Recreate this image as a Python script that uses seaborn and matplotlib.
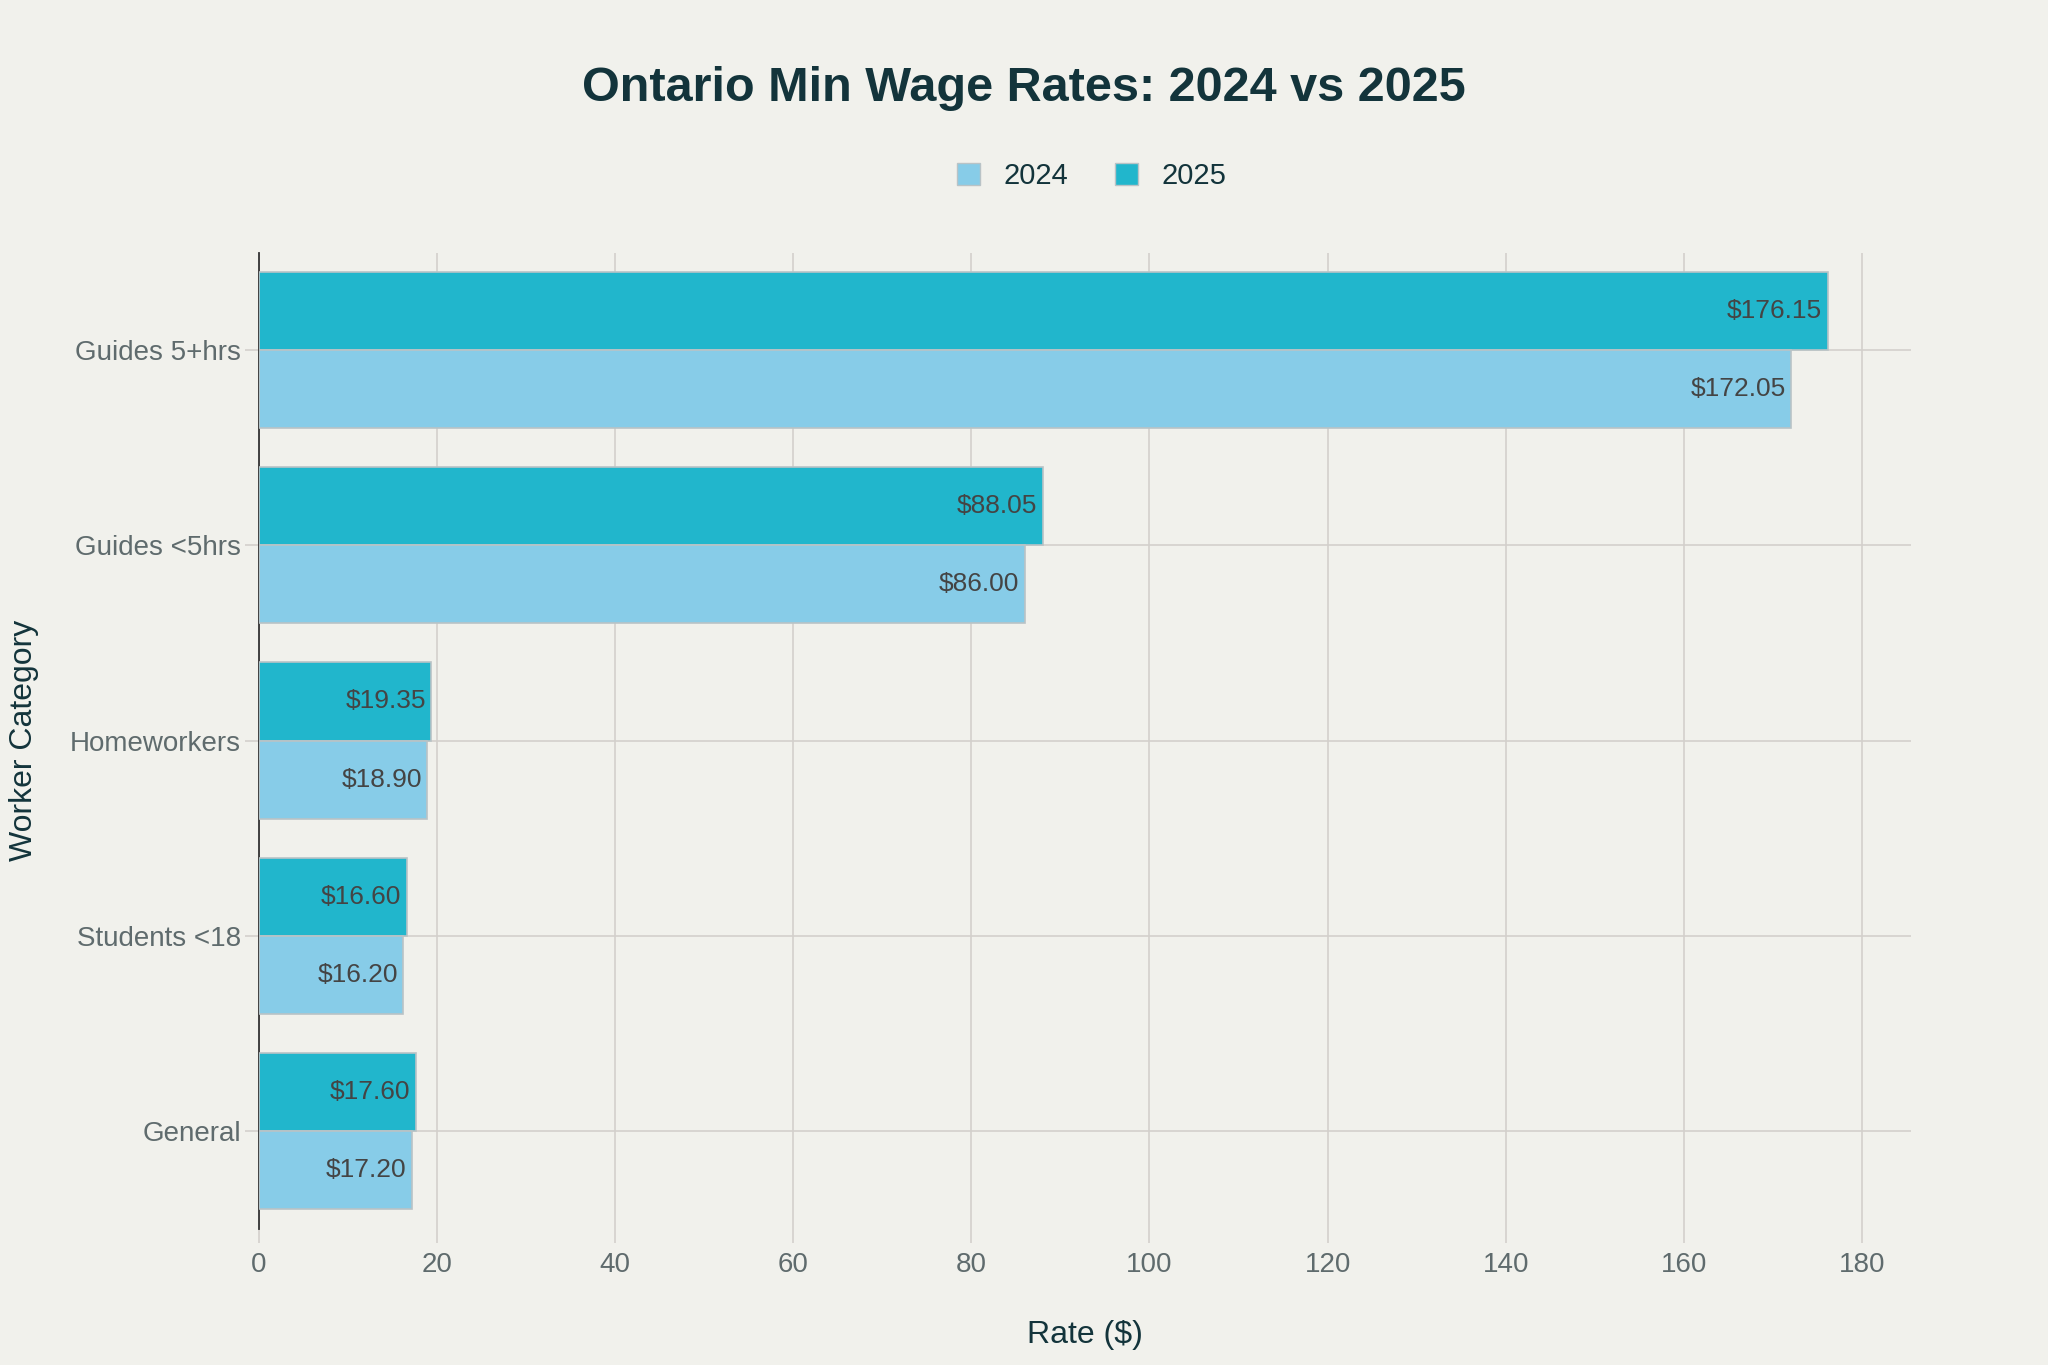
import pandas as pd
import matplotlib.pyplot as plt
import seaborn as sns

# data
categories = ['Guides 5+hrs', 'Guides <5hrs', 'Homeworkers', 'Students <18', 'General']
rate_2024 = [172.05, 86.00, 18.90, 16.20, 17.20]
rate_2025 = [176.15, 88.05, 19.35, 16.60, 17.60]
years = ['2024', '2025']
xticks = [0, 20, 40, 60, 80, 100, 120, 140, 160, 180]

df = pd.DataFrame({
    'Category': categories * 2,
    'Rate': rate_2024 + rate_2025,
    'Year': ['2024'] * len(categories) + ['2025'] * len(categories),
})

bg = '#F1F1EC'
dark = '#13343B'
grid_c = '#D3D0CC'
colors = {'2024': '#87CCE8', '2025': '#21B6CC'}

sns.set_theme(style='white')
plt.rcParams['font.family'] = ['Liberation Sans', 'DejaVu Sans']

fig, ax = plt.subplots(figsize=(20.48, 13.65), dpi=100)
fig.patch.set_facecolor(bg)
ax.set_facecolor(bg)
fig.subplots_adjust(left=0.1265, right=0.933, top=0.815, bottom=0.1)

# 2025 drawn first in hue order so it sits above 2024 in each group
sns.barplot(data=df, y='Category', x='Rate', hue='Year', hue_order=['2025', '2024'],
            order=categories, palette=colors, orient='h', width=0.8, saturation=1,
            edgecolor='#B9C3C6', linewidth=1.2, ax=ax, zorder=3, legend=False)

for cont in ax.containers:
    txts = ax.bar_label(cont, labels=[f'${v:.2f}' for v in cont.datavalues],
                        label_type='edge', padding=-4, fontsize=19, color='#444444', zorder=4)
    for t in txts:
        t.set_ha('right')

ax.set_xlim(0, 185.5)
ax.set_ylim(4.5, -0.5)
ax.set_xticks(xticks)
ax.grid(True, color=grid_c, linewidth=1.2, zorder=0)
ax.set_axisbelow(True)

for s in ['top', 'right', 'bottom']:
    ax.spines[s].set_visible(False)
ax.spines['left'].set_color('#333333')
ax.spines['left'].set_linewidth(1.3)

ax.tick_params(axis='x', colors=grid_c, length=10, width=1.2, pad=7,
               labelsize=20, labelcolor='#5F6B6D', direction='out', bottom=True)
ax.tick_params(axis='y', colors=grid_c, length=10, width=1.2, pad=3,
               labelsize=20, labelcolor='#5F6B6D', direction='out', left=True)

ax.set_xlabel('Rate ($)', fontsize=23, color=dark, labelpad=30)
ax.set_ylabel('Worker Category', fontsize=23, color=dark, labelpad=22)

fig.suptitle('Ontario Min Wage Rates: 2024 vs 2025', fontsize=35, fontweight='bold',
             color=dark, y=0.952)

handles = [plt.Rectangle((0, 0), 1, 1, facecolor=colors[y], edgecolor='#B9C3C6') for y in years]
fig.legend(handles, years, loc='center', bbox_to_anchor=(0.533, 0.871), ncol=2,
           frameon=False, fontsize=21, labelcolor=dark, handlelength=0.8,
           handleheight=0.8, columnspacing=1.6, handletextpad=0.8)

plt.savefig('out.png', dpi=100, facecolor=bg)
